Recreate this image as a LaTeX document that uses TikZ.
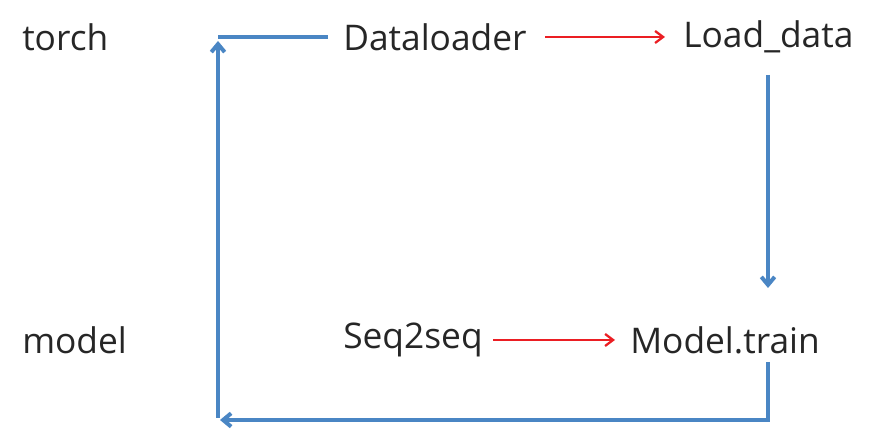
\documentclass[tikz,border=0pt]{standalone}
\usepackage{fontspec}
\setmainfont{Open Sans}
\usetikzlibrary{arrows.meta}
\begin{document}
\begin{tikzpicture}[x=0.75pt,y=-0.75pt,
  lbl/.style={anchor=west,inner sep=0pt,font=\fontsize{26.5}{30}\selectfont,text=black!85},
  blue/.style={line width=3pt,color={rgb,255:red,74;green,134;blue,196}},
  red/.style={line width=1.7pt,color={rgb,255:red,235;green,30;blue,35},-{Straight Barb[length=6pt,width=9pt]}},
  bl/.style={blue,-{Straight Barb[length=6pt,width=10pt]}}]
\useasboundingbox (0,0) rectangle (869,441);
\node[lbl] (torch) at (22,37) {torch};
\node[lbl] (dl) at (343,37) {Dataloader};
\node[lbl] (ld) at (683,37) {Load\_data};
\node[lbl] (model) at (22,340) {model};
\node[lbl] (s2s) at (343,340) {Seq2seq};
\node[lbl] (mt) at (630,340) {Model.train};
\coordinate (tl) at (218,37);
\coordinate (bl0) at (218,418);
\coordinate (br) at (768,420);
\coordinate (bla) at (220,420);
\coordinate (r1a) at (545,37);
\coordinate (r1b) at (665,37);
\coordinate (r2a) at (493,340);
\coordinate (r2b) at (615,340);
\coordinate (da) at (768,75);
\coordinate (db) at (768,288);
\coordinate (ma) at (768,362);
\draw[blue] (328,37) -- (tl);
\draw[bl] (bl0) -- ([yshift=-3pt]tl);
\draw[red] (r1a) -- (r1b);
\draw[red] (r2a) -- (r2b);
\draw[bl] (da) -- (db);
\draw[bl] (ma) -- (br) -- (bla);
\end{tikzpicture}
\end{document}
